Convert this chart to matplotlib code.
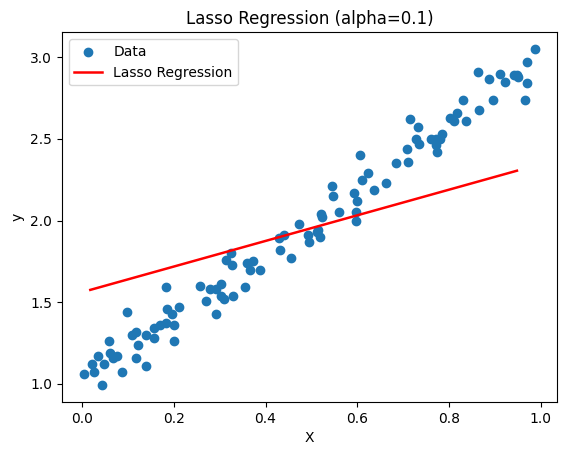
import numpy as np
import matplotlib
matplotlib.use("Agg")
import matplotlib.pyplot as plt

# data points
x_data = [0.005, 0.025, 0.044, 0.021, 0.034, 0.047, 0.058, 0.061, 0.067, 0.076,
          0.088, 0.097, 0.109, 0.118, 0.121, 0.117, 0.140, 0.139, 0.156, 0.156,
          0.170, 0.183, 0.200, 0.200, 0.185, 0.196, 0.212, 0.184, 0.258, 0.271,
          0.280, 0.293, 0.304, 0.291, 0.303, 0.310, 0.329, 0.356, 0.472, 0.493,
          0.495, 0.513, 0.430, 0.441, 0.432, 0.456, 0.324, 0.314, 0.326, 0.359,
          0.373, 0.366, 0.389, 0.606, 0.624, 0.611, 0.636, 0.663, 0.684, 0.708,
          0.710, 0.545, 0.546, 0.592, 0.600, 0.561, 0.521, 0.524, 0.598, 0.598,
          0.515, 0.519, 0.987, 0.969, 0.864, 0.888, 0.910, 0.922, 0.942, 0.951,
          0.948, 0.969, 0.965, 0.895, 0.830, 0.866, 0.817, 0.803, 0.810, 0.836,
          0.785, 0.780, 0.771, 0.761, 0.772, 0.773, 0.714, 0.732, 0.729, 0.734]
y_data = [1.06, 1.07, 0.99, 1.12, 1.17, 1.12, 1.26, 1.19, 1.16, 1.17,
          1.07, 1.44, 1.30, 1.32, 1.24, 1.16, 1.11, 1.30, 1.28, 1.34,
          1.36, 1.37, 1.36, 1.26, 1.46, 1.43, 1.47, 1.59, 1.60, 1.51,
          1.58, 1.58, 1.61, 1.43, 1.54, 1.52, 1.54, 1.59, 1.98, 1.91,
          1.87, 1.93, 1.89, 1.91, 1.82, 1.77, 1.80, 1.76, 1.73, 1.74,
          1.75, 1.70, 1.70, 2.40, 2.29, 2.25, 2.19, 2.23, 2.35, 2.44,
          2.36, 2.21, 2.15, 2.17, 2.12, 2.05, 2.04, 2.02, 2.05, 2.00,
          1.94, 1.90, 3.05, 2.97, 2.91, 2.87, 2.90, 2.85, 2.89, 2.88,
          2.89, 2.84, 2.74, 2.74, 2.74, 2.68, 2.66, 2.63, 2.61, 2.61,
          2.53, 2.50, 2.50, 2.50, 2.46, 2.42, 2.62, 2.57, 2.50, 2.47]

# fitted lasso model (alpha=0.1), evaluated over the test range
lasso_coef = 0.785
lasso_intercept = 1.561
x_line = np.array([0.018, 0.948])
y_line = lasso_intercept + lasso_coef * x_line

fig = plt.figure(figsize=(5.67, 4.55), dpi=100)
plt.subplots_adjust(left=0.109, right=0.983, bottom=0.116, top=0.929)
plt.scatter(x_data, y_data, label="Data")
plt.plot(x_line, y_line, color="red", linewidth=1.8, label="Lasso Regression")
plt.title("Lasso Regression (alpha=0.1)")
plt.xlabel("X")
plt.ylabel("y")
plt.legend(loc="upper left")
plt.savefig("out.png", dpi=100)
